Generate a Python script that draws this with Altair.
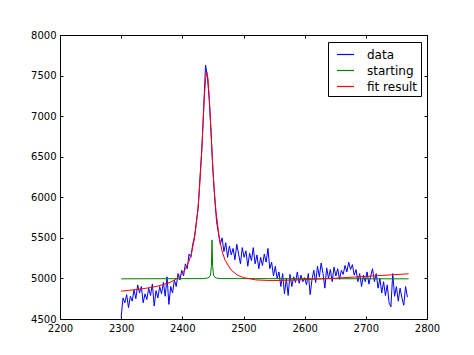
import altair as alt
import pandas as pd

# ---- data ----
data_x = list(range(2300, 2771, 3))
data_y = [
    4520, 4760, 4700, 4800, 4640, 4780, 4720, 4860, 4750, 4920,
    4820, 4900, 4700, 4810, 4740, 4880, 4790, 4930, 4660, 4850,
    4760, 4900, 4810,
    4950, 4780, 5020, 4680, 4900, 4820, 4980, 4900, 5060, 4980,
    5100, 5030, 5180,
    5120, 5300, 5260, 5420, 5520, 5700, 5880, 6260, 6600, 7120,
    7630, 7480, 7200, 6800, 6330, 5980, 5700, 5560, 5420,
    5500, 5330, 5440, 5260, 5400, 5290, 5370, 5230, 5420, 5300,
    5180, 5380, 5260, 5340, 5150, 5310, 5220, 5380, 5180, 5290,
    5120, 5260, 5160, 5300, 5200, 5370,
    5120, 5200, 5030, 5150, 5000, 5080,
    4900, 5060, 4810, 5000, 4790, 5050, 4900, 5020, 4950, 5080,
    4940, 5040, 4960, 5010, 4920, 5060, 4800,
    4990, 5100, 4950, 5150, 5020, 5190, 5060, 4880, 5130, 5000,
    5110, 4960, 5140, 5030, 5120, 4990, 5100, 5050, 5160, 5080,
    5200, 5110, 5170,
    5040, 5110, 4960, 5060, 4900, 5040, 4960, 5080, 4930, 5030,
    5120, 4960, 5060,
    4880, 5000, 4820, 4960, 4790, 4920, 4700, 4650, 5060, 4780,
    4900, 4720, 4880, 4760, 4670, 4900, 4770,
]

start_x = [2300, 2435, 2441, 2444, 2446, 2447.5, 2448.5, 2449.5, 2451, 2453, 2456, 2462, 2770]
start_y = [4995, 4998, 5005, 5015, 5040, 5150, 5475, 5150, 5040, 5015, 5005, 4998, 4995]

fit_x = [2300, 2320, 2340, 2360, 2380, 2390, 2400, 2405, 2410, 2415, 2420, 2425,
         2428, 2430, 2432, 2434, 2436, 2438, 2440, 2442, 2444, 2446, 2448, 2450,
         2452, 2455, 2460, 2465, 2470, 2480, 2490, 2500, 2520, 2540, 2560, 2600,
         2650, 2700, 2770]
fit_y = [4843, 4859, 4878, 4905, 4952, 4992, 5062, 5115, 5194, 5311, 5500, 5814,
         6099, 6341, 6624, 6933, 7233, 7458, 7544, 7460, 7237, 6939, 6631, 6350,
         6110, 5828, 5519, 5335, 5223, 5101, 5041, 5010, 4982, 4975, 4975, 4985,
         5003, 5025, 5057]

x_ticks = [2200, 2300, 2400, 2500, 2600, 2700, 2800]
y_ticks = [4500, 5000, 5500, 6000, 6500, 7000, 7500, 8000]

names = ["data", "starting", "fit result"]
colors = ["#0000ff", "#008000", "#ff0000"]

df_data = pd.DataFrame({"x": data_x, "y": data_y, "series": names[0], "o": range(len(data_x))})
df_start = pd.DataFrame({"x": start_x, "y": start_y, "series": names[1], "o": range(len(start_x))})
df_fit = pd.DataFrame({"x": fit_x, "y": fit_y, "series": names[2], "o": range(len(fit_x))})

FONT = "DejaVu Sans"
xscale = alt.Scale(domain=[2200, 2800], nice=False, zero=False)
yscale = alt.Scale(domain=[4500, 8000], nice=False, zero=False)

legend = alt.Legend(
    title=None, orient="none", legendX=268, legendY=7,
    symbolType="stroke", symbolSize=289, symbolStrokeWidth=1.2,
    symbolOffset=5, labelOffset=12, labelFont=FONT, labelFontSize=12,
    labelColor="black", strokeColor="black", fillColor="white",
    padding=3, rowPadding=0, values=names,
)
color = alt.Color("series:N", scale=alt.Scale(domain=names, range=colors), legend=legend)

label_axis_x = alt.Axis(values=x_ticks, orient="bottom", title=None, grid=False,
                        domain=True, domainColor="black", domainWidth=1,
                        ticks=False, labelFont=FONT, labelFontSize=10,
                        labelColor="black", labelPadding=4, labelFlush=False,
                        labelOverlap=False, format="d")
label_axis_y = alt.Axis(values=y_ticks, orient="left", title=None, grid=False,
                        domain=True, domainColor="black", domainWidth=1,
                        ticks=False, labelFont=FONT, labelFontSize=10,
                        labelColor="black", labelPadding=4, labelOverlap=False,
                        labelBaseline="middle", format="d")


def tick_axis(vals, orient):
    return alt.Axis(values=vals, orient=orient, title=None, grid=False, domain=False,
                    labels=False, ticks=True, tickSize=3, tickColor="black",
                    tickWidth=1, offset=-3)


def layer(df, xaxis, yaxis):
    return alt.Chart(df).mark_line(strokeWidth=1, clip=True).encode(
        x=alt.X("x:Q", scale=xscale, axis=xaxis),
        y=alt.Y("y:Q", scale=yscale, axis=yaxis),
        color=color,
        order="o:Q",
    )


l1 = layer(df_data, label_axis_x, label_axis_y)
l2 = layer(df_start, tick_axis(x_ticks, "bottom"), tick_axis(y_ticks, "left"))
l3 = layer(df_fit, tick_axis(x_ticks, "top"), tick_axis(y_ticks, "right"))

chart = alt.layer(l1, l2, l3).resolve_axis(x="independent", y="independent").properties(
    width=367, height=284,
    autosize=alt.AutoSizeParams(type="none"),
    padding={"left": 52, "top": 27, "right": 20, "bottom": 20},
    background="white",
).configure_view(stroke="black", strokeWidth=1)

chart.save("out.html", embed_options={"renderer": "svg", "actions": False})
